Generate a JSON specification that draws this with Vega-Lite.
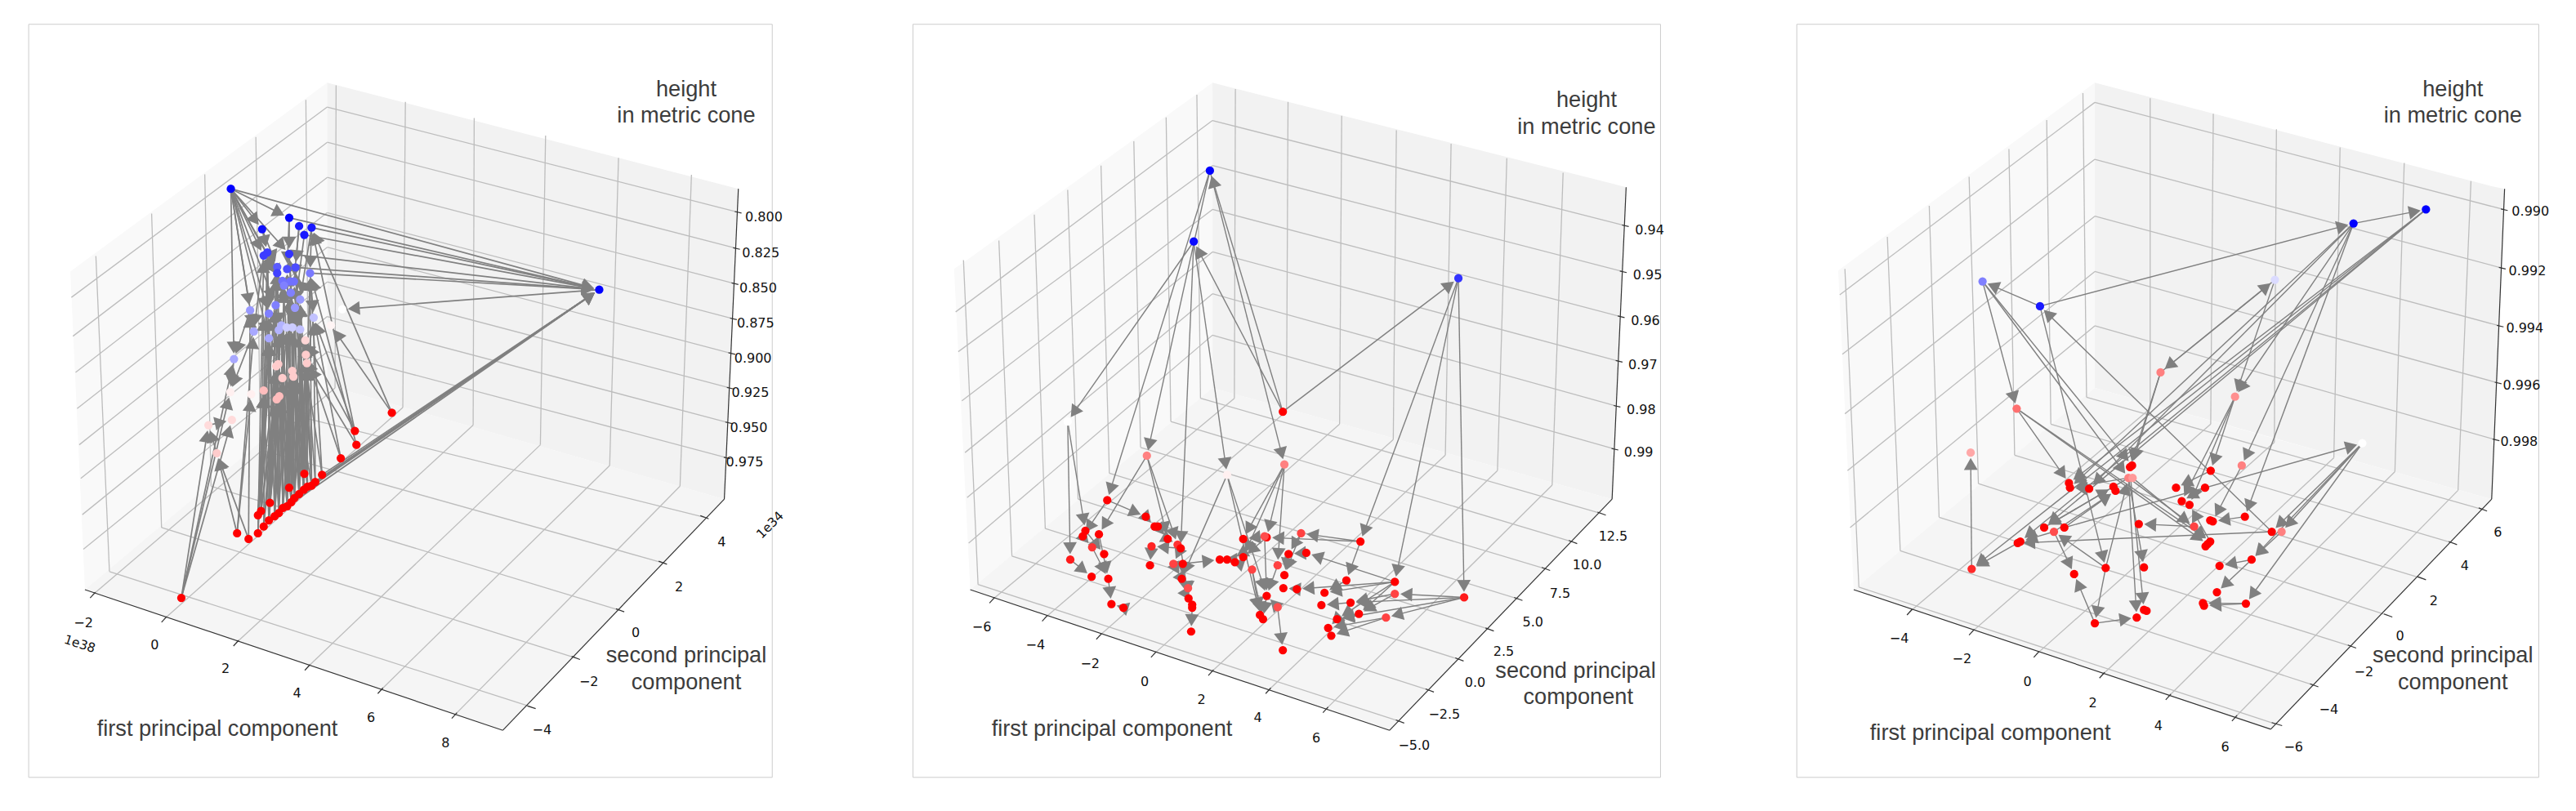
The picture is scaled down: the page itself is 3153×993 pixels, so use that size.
{"$schema":"https://vega.github.io/schema/vega-lite/v6.json","padding":0,"spacing":0,"background":"white","config":{"view":{"stroke":null},"concat":{"spacing":0}},
"datasets":{
"frame1":[{"x":55,"x2":1482,"y":47,"y2":1503}],
"frame2":[{"x":43,"x2":1478,"y":47,"y2":1503}],
"frame3":[{"x":62,"x2":1496,"y":47,"y2":1503}],
"walls1":[{"wall":"left","x":135,"y":525,"y2":525},{"wall":"left","x":163,"y":504,"y2":1140},{"wall":"left","x":628,"y":160,"y2":745},{"wall":"right","x":628,"y":160,"y2":745},{"wall":"right","x":1390,"y":358,"y2":965},{"wall":"right","x":1417,"y":365,"y2":365},{"wall":"floor","x":163,"y":1140,"y2":1140},{"wall":"floor","x":628,"y":745,"y2":1298},{"wall":"floor","x":965,"y":842,"y2":1412},{"wall":"floor","x":1390,"y":965,"y2":965}],
"walls2":[{"wall":"left","x":122,"y":520,"y2":520},{"wall":"left","x":153,"y":498,"y2":1140},{"wall":"left","x":618,"y":160,"y2":750},{"wall":"right","x":618,"y":160,"y2":750},{"wall":"right","x":1385,"y":355,"y2":965},{"wall":"right","x":1412,"y":362,"y2":362},{"wall":"floor","x":153,"y":1140,"y2":1140},{"wall":"floor","x":618,"y":750,"y2":1297},{"wall":"floor","x":958,"y":845,"y2":1412},{"wall":"floor","x":1385,"y":965,"y2":965}],
"walls3":[{"wall":"left","x":142,"y":523,"y2":523},{"wall":"left","x":172,"y":501,"y2":1140},{"wall":"left","x":638,"y":160,"y2":750},{"wall":"right","x":638,"y":160,"y2":750},{"wall":"right","x":1405,"y":360,"y2":965},{"wall":"right","x":1430,"y":365,"y2":365},{"wall":"floor","x":172,"y":1140,"y2":1140},{"wall":"floor","x":638,"y":750,"y2":1297},{"wall":"floor","x":978,"y":846,"y2":1410},{"wall":"floor","x":1405,"y":965,"y2":965}],
"grid1":[{"x":645,"y":165,"x2":643,"y2":750},{"x":778,"y":197,"x2":773,"y2":788},{"x":910,"y":228,"x2":908,"y2":822},{"x":1047,"y":262,"x2":1037,"y2":860},{"x":1187,"y":305,"x2":1170,"y2":900},{"x":1327,"y":338,"x2":1305,"y2":940},{"x":643,"y":750,"x2":178,"y2":1150},{"x":773,"y":788,"x2":315,"y2":1197},{"x":908,"y":822,"x2":453,"y2":1243},{"x":1037,"y":860,"x2":590,"y2":1290},{"x":1170,"y":900,"x2":730,"y2":1335},{"x":1305,"y":940,"x2":872,"y2":1383},{"x":184,"y":495,"x2":210,"y2":1105},{"x":291,"y":413,"x2":310,"y2":1020},{"x":393,"y":337,"x2":405,"y2":940},{"x":491,"y":265,"x2":500,"y2":870},{"x":587,"y":193,"x2":592,"y2":810},{"x":210,"y":1105,"x2":1020,"y2":1367},{"x":310,"y":1020,"x2":1105,"y2":1272},{"x":405,"y":940,"x2":1190,"y2":1180},{"x":500,"y":870,"x2":1272,"y2":1088},{"x":592,"y":810,"x2":1352,"y2":1000},{"x":628,"y":207,"x2":1415,"y2":410},{"x":628,"y":275,"x2":1412,"y2":480},{"x":628,"y":343,"x2":1409,"y2":548},{"x":628,"y":411,"x2":1406,"y2":616},{"x":628,"y":478,"x2":1403,"y2":683},{"x":628,"y":545,"x2":1400,"y2":750},{"x":628,"y":612,"x2":1397,"y2":817},{"x":628,"y":680,"x2":1394,"y2":885},{"x":628,"y":207,"x2":137,"y2":575},{"x":628,"y":275,"x2":140,"y2":650},{"x":628,"y":343,"x2":145,"y2":720},{"x":628,"y":411,"x2":148,"y2":790},{"x":628,"y":478,"x2":152,"y2":860},{"x":628,"y":545,"x2":155,"y2":925},{"x":628,"y":612,"x2":158,"y2":995},{"x":628,"y":680,"x2":160,"y2":1062}],
"grid2":[{"x":662,"y":172,"x2":660,"y2":770},{"x":763,"y":197,"x2":760,"y2":795},{"x":866,"y":224,"x2":862,"y2":820},{"x":971,"y":252,"x2":965,"y2":850},{"x":1076,"y":278,"x2":1065,"y2":880},{"x":1183,"y":306,"x2":1165,"y2":910},{"x":1291,"y":334,"x2":1270,"y2":938},{"x":660,"y":770,"x2":195,"y2":1160},{"x":760,"y":795,"x2":296,"y2":1195},{"x":862,"y":820,"x2":400,"y2":1230},{"x":965,"y":850,"x2":505,"y2":1265},{"x":1065,"y":880,"x2":615,"y2":1300},{"x":1165,"y":910,"x2":725,"y2":1335},{"x":1270,"y":938,"x2":835,"y2":1372},{"x":140,"y":503,"x2":168,"y2":1130},{"x":208,"y":465,"x2":233,"y2":1075},{"x":276,"y":415,"x2":297,"y2":1022},{"x":340,"y":367,"x2":360,"y2":965},{"x":404,"y":320,"x2":420,"y2":915},{"x":467,"y":273,"x2":480,"y2":865},{"x":529,"y":227,"x2":538,"y2":815},{"x":588,"y":183,"x2":595,"y2":770},{"x":168,"y":1130,"x2":978,"y2":1395},{"x":233,"y":1075,"x2":1035,"y2":1335},{"x":297,"y":1022,"x2":1092,"y2":1275},{"x":360,"y":965,"x2":1150,"y2":1217},{"x":420,"y":915,"x2":1205,"y2":1158},{"x":480,"y":865,"x2":1258,"y2":1100},{"x":538,"y":815,"x2":1310,"y2":1048},{"x":595,"y":770,"x2":1365,"y2":993},{"x":618,"y":233,"x2":1409,"y2":436},{"x":618,"y":320,"x2":1405,"y2":525},{"x":618,"y":405,"x2":1401,"y2":612},{"x":618,"y":487,"x2":1397,"y2":698},{"x":618,"y":568,"x2":1393,"y2":785},{"x":618,"y":648,"x2":1389,"y2":868},{"x":618,"y":233,"x2":125,"y2":603},{"x":618,"y":320,"x2":130,"y2":680},{"x":618,"y":405,"x2":137,"y2":775},{"x":618,"y":487,"x2":143,"y2":875},{"x":618,"y":568,"x2":147,"y2":962},{"x":618,"y":648,"x2":150,"y2":1050}],
"grid3":[{"x":745,"y":190,"x2":745,"y2":790},{"x":867,"y":220,"x2":862,"y2":820},{"x":989,"y":250,"x2":985,"y2":855},{"x":1112,"y":285,"x2":1100,"y2":885},{"x":1236,"y":315,"x2":1218,"y2":912},{"x":1365,"y":350,"x2":1340,"y2":948},{"x":745,"y":790,"x2":280,"y2":1183},{"x":862,"y":820,"x2":400,"y2":1222},{"x":985,"y":855,"x2":525,"y2":1265},{"x":1100,"y":885,"x2":652,"y2":1305},{"x":1218,"y":912,"x2":780,"y2":1347},{"x":1340,"y":948,"x2":908,"y2":1388},{"x":155,"y":520,"x2":182,"y2":1135},{"x":237,"y":458,"x2":262,"y2":1065},{"x":318,"y":398,"x2":337,"y2":1000},{"x":395,"y":342,"x2":413,"y2":935},{"x":472,"y":288,"x2":483,"y2":880},{"x":545,"y":232,"x2":553,"y2":820},{"x":615,"y":180,"x2":622,"y2":768},{"x":182,"y":1135,"x2":988,"y2":1400},{"x":262,"y":1065,"x2":1062,"y2":1325},{"x":337,"y":1000,"x2":1135,"y2":1250},{"x":413,"y":935,"x2":1205,"y2":1190},{"x":483,"y":880,"x2":1270,"y2":1118},{"x":553,"y":820,"x2":1330,"y2":1050},{"x":622,"y":768,"x2":1388,"y2":985},{"x":638,"y":198,"x2":1428,"y2":405},{"x":638,"y":308,"x2":1424,"y2":518},{"x":638,"y":418,"x2":1420,"y2":630},{"x":638,"y":525,"x2":1416,"y2":740},{"x":638,"y":630,"x2":1412,"y2":850},{"x":638,"y":198,"x2":145,"y2":570},{"x":638,"y":308,"x2":150,"y2":685},{"x":638,"y":418,"x2":155,"y2":800},{"x":638,"y":525,"x2":160,"y2":910},{"x":638,"y":630,"x2":165,"y2":1020}],
"axis1":[{"x":163,"y":1140,"x2":965,"y2":1412},{"x":965,"y":1412,"x2":1390,"y2":965},{"x":1417,"y":365,"x2":1390,"y2":965},{"x":173,"y":1156,"x2":183,"y2":1145},{"x":310,"y":1203,"x2":320,"y2":1192},{"x":448,"y":1249,"x2":458,"y2":1238},{"x":585,"y":1296,"x2":595,"y2":1285},{"x":725,"y":1341,"x2":735,"y2":1330},{"x":867,"y":1389,"x2":877,"y2":1378},{"x":1012,"y":1365,"x2":1028,"y2":1370},{"x":1097,"y":1269,"x2":1113,"y2":1275},{"x":1182,"y":1177,"x2":1198,"y2":1183},{"x":1264,"y":1085,"x2":1280,"y2":1091},{"x":1344,"y":997,"x2":1360,"y2":1003},{"x":1410,"y":409,"x2":1423,"y2":412},{"x":1407,"y":479,"x2":1420,"y2":482},{"x":1404,"y":547,"x2":1417,"y2":550},{"x":1401,"y":615,"x2":1414,"y2":618},{"x":1398,"y":682,"x2":1411,"y2":685},{"x":1395,"y":749,"x2":1408,"y2":752},{"x":1392,"y":816,"x2":1405,"y2":819},{"x":1389,"y":884,"x2":1402,"y2":887}],
"axis2":[{"x":153,"y":1140,"x2":958,"y2":1412},{"x":958,"y":1412,"x2":1385,"y2":965},{"x":1412,"y":362,"x2":1385,"y2":965},{"x":190,"y":1166,"x2":200,"y2":1155},{"x":291,"y":1201,"x2":301,"y2":1190},{"x":395,"y":1236,"x2":405,"y2":1225},{"x":500,"y":1271,"x2":510,"y2":1260},{"x":610,"y":1306,"x2":620,"y2":1295},{"x":720,"y":1341,"x2":730,"y2":1330},{"x":830,"y":1378,"x2":840,"y2":1367},{"x":970,"y":1392,"x2":986,"y2":1398},{"x":1027,"y":1332,"x2":1043,"y2":1338},{"x":1084,"y":1272,"x2":1100,"y2":1278},{"x":1142,"y":1214,"x2":1158,"y2":1220},{"x":1197,"y":1155,"x2":1213,"y2":1161},{"x":1250,"y":1097,"x2":1266,"y2":1103},{"x":1302,"y":1045,"x2":1318,"y2":1051},{"x":1357,"y":990,"x2":1373,"y2":996},{"x":1404,"y":435,"x2":1417,"y2":438},{"x":1400,"y":524,"x2":1413,"y2":527},{"x":1396,"y":611,"x2":1409,"y2":614},{"x":1392,"y":697,"x2":1405,"y2":700},{"x":1388,"y":784,"x2":1401,"y2":787},{"x":1384,"y":867,"x2":1397,"y2":870}],
"axis3":[{"x":172,"y":1140,"x2":978,"y2":1410},{"x":978,"y":1410,"x2":1405,"y2":965},{"x":1430,"y":365,"x2":1405,"y2":965},{"x":275,"y":1189,"x2":285,"y2":1178},{"x":395,"y":1228,"x2":405,"y2":1217},{"x":520,"y":1271,"x2":530,"y2":1260},{"x":647,"y":1311,"x2":657,"y2":1300},{"x":775,"y":1353,"x2":785,"y2":1342},{"x":903,"y":1394,"x2":913,"y2":1383},{"x":980,"y":1397,"x2":1000,"y2":1403},{"x":1054,"y":1322,"x2":1070,"y2":1328},{"x":1127,"y":1247,"x2":1143,"y2":1253},{"x":1197,"y":1187,"x2":1213,"y2":1193},{"x":1262,"y":1115,"x2":1278,"y2":1121},{"x":1322,"y":1047,"x2":1338,"y2":1053},{"x":1380,"y":982,"x2":1396,"y2":988},{"x":1423,"y":404,"x2":1436,"y2":407},{"x":1419,"y":517,"x2":1432,"y2":520},{"x":1415,"y":629,"x2":1428,"y2":632},{"x":1411,"y":739,"x2":1424,"y2":742},{"x":1407,"y":849,"x2":1420,"y2":852}],
"labels1":[{"t":"−2","x":160,"y":1205},{"t":"0","x":297,"y":1248},{"t":"2","x":433,"y":1293},{"t":"4","x":570,"y":1341},{"t":"6","x":712,"y":1388},{"t":"8","x":855,"y":1437},{"t":"−4","x":1040,"y":1412},{"t":"−2","x":1130,"y":1318},{"t":"0","x":1220,"y":1224},{"t":"2","x":1303,"y":1135},{"t":"4","x":1385,"y":1048},{"t":"0.800","x":1466,"y":420},{"t":"0.825","x":1460,"y":490},{"t":"0.850","x":1455,"y":557},{"t":"0.875","x":1450,"y":626},{"t":"0.900","x":1445,"y":693},{"t":"0.925","x":1440,"y":760},{"t":"0.950","x":1437,"y":827},{"t":"0.975","x":1429,"y":894}],
"labels2":[{"t":"−6","x":175,"y":1213},{"t":"−4","x":278,"y":1248},{"t":"−2","x":383,"y":1283},{"t":"0","x":488,"y":1318},{"t":"2","x":597,"y":1353},{"t":"4","x":705,"y":1388},{"t":"6","x":817,"y":1427},{"t":"−5.0","x":1005,"y":1442},{"t":"−2.5","x":1063,"y":1381},{"t":"0.0","x":1122,"y":1320},{"t":"2.5","x":1177,"y":1260},{"t":"5.0","x":1233,"y":1204},{"t":"7.5","x":1285,"y":1148},{"t":"10.0","x":1337,"y":1092},{"t":"12.5","x":1387,"y":1038},{"t":"0.94","x":1457,"y":445},{"t":"0.95","x":1453,"y":532},{"t":"0.96","x":1449,"y":620},{"t":"0.97","x":1444,"y":706},{"t":"0.98","x":1441,"y":792},{"t":"0.99","x":1436,"y":875}],
"labels3":[{"t":"−4","x":260,"y":1235},{"t":"−2","x":381,"y":1275},{"t":"0","x":508,"y":1318},{"t":"2","x":634,"y":1360},{"t":"4","x":761,"y":1403},{"t":"6","x":890,"y":1445},{"t":"−6","x":1022,"y":1445},{"t":"−4","x":1090,"y":1372},{"t":"−2","x":1158,"y":1300},{"t":"0","x":1228,"y":1230},{"t":"2","x":1293,"y":1162},{"t":"4","x":1353,"y":1095},{"t":"6","x":1417,"y":1030},{"t":"0.990","x":1480,"y":409},{"t":"0.992","x":1474,"y":525},{"t":"0.994","x":1469,"y":635},{"t":"0.996","x":1463,"y":745},{"t":"0.998","x":1458,"y":855}],
"titles1":[{"t":"height","x":1317,"y":173},{"t":"in metric cone","x":1317,"y":225},{"t":"second principal","x":1317,"y":1268},{"t":"component","x":1317,"y":1320},{"t":"first principal component","x":417,"y":1410}],
"titles2":[{"t":"height","x":1336,"y":195},{"t":"in metric cone","x":1336,"y":246},{"t":"second principal","x":1315,"y":1298},{"t":"component","x":1320,"y":1349},{"t":"first principal component","x":425,"y":1410}],
"titles3":[{"t":"height","x":1330,"y":173},{"t":"in metric cone","x":1330,"y":225},{"t":"second principal","x":1330,"y":1268},{"t":"component","x":1330,"y":1320},{"t":"first principal component","x":436,"y":1418}],
"nodes1":[{"x":443,"y":365,"s":0},{"x":555,"y":421,"s":0},{"x":503,"y":443,"s":0.03},{"x":574,"y":437,"s":0.05},{"x":598,"y":440,"s":0.05},{"x":584,"y":454,"s":0.05},{"x":555,"y":491,"s":0.1},{"x":513,"y":488,"s":0.12},{"x":506,"y":494,"s":0.12},{"x":532,"y":516,"s":0.18},{"x":551,"y":520,"s":0.15},{"x":567,"y":517,"s":0.15},{"x":532,"y":528,"s":0.13},{"x":595,"y":528,"s":0.24},{"x":542,"y":543,"s":0.22},{"x":557,"y":544,"s":0.22},{"x":564,"y":544,"s":0.22},{"x":545,"y":552,"s":0.25},{"x":558,"y":566,"s":0.25},{"x":576,"y":579,"s":0.3},{"x":529,"y":590,"s":0.25},{"x":566,"y":595,"s":0.3},{"x":516,"y":606,"s":0.25},{"x":480,"y":600,"s":0.3},{"x":602,"y":614,"s":0.38},{"x":657,"y":598,"s":0.5},{"x":540,"y":629,"s":0.35},{"x":535,"y":638,"s":0.35},{"x":550,"y":633,"s":0.4},{"x":561,"y":633,"s":0.4},{"x":576,"y":637,"s":0.38},{"x":487,"y":641,"s":0.33},{"x":516,"y":654,"s":0.33},{"x":635,"y":629,"s":0.52},{"x":586,"y":658,"s":0.58},{"x":587,"y":686,"s":0.6},{"x":449,"y":694,"s":0.33},{"x":534,"y":704,"s":0.6},{"x":530,"y":708,"s":0.6},{"x":589,"y":702,"s":0.6},{"x":561,"y":717,"s":0.6},{"x":542,"y":731,"s":0.6},{"x":563,"y":728,"s":0.6},{"x":506,"y":755,"s":0.63},{"x":536,"y":766,"s":0.63},{"x":531,"y":772,"s":0.63},{"x":442,"y":758,"s":0.53},{"x":482,"y":762,"s":0.53},{"x":445,"y":812,"s":0.57},{"x":400,"y":822,"s":0.57},{"x":416,"y":876,"s":0.6},{"x":752,"y":798,"s":1},{"x":681,"y":833,"s":1},{"x":684,"y":860,"s":1},{"x":654,"y":886,"s":1},{"x":618,"y":918,"s":1},{"x":584,"y":916,"s":1},{"x":605,"y":932,"s":1},{"x":555,"y":943,"s":1},{"x":518,"y":972,"s":1},{"x":501,"y":988,"s":1},{"x":495,"y":996,"s":1},{"x":455,"y":1031,"s":1},{"x":477,"y":1042,"s":1},{"x":495,"y":1031,"s":1},{"x":506,"y":1018,"s":1},{"x":348,"y":1156,"s":1},{"x":516,"y":1006,"s":1},{"x":527,"y":998,"s":1},{"x":535,"y":992,"s":1},{"x":543,"y":982,"s":1},{"x":551,"y":979,"s":1},{"x":559,"y":971,"s":1},{"x":565,"y":963,"s":1},{"x":574,"y":955,"s":1},{"x":583,"y":947,"s":1},{"x":590,"y":941,"s":1},{"x":598,"y":939,"s":1},{"x":1150,"y":560,"s":0}],
"edges1":[{"x":443,"y":365,"x2":503,"y2":443},{"x":443,"y":365,"x2":555,"y2":491},{"x":443,"y":365,"x2":506,"y2":494},{"x":443,"y":365,"x2":532,"y2":528},{"x":443,"y":365,"x2":480,"y2":600},{"x":443,"y":365,"x2":487,"y2":641},{"x":443,"y":365,"x2":449,"y2":694},{"x":443,"y":365,"x2":516,"y2":606},{"x":443,"y":365,"x2":529,"y2":590},{"x":443,"y":365,"x2":542,"y2":543},{"x":443,"y":365,"x2":516,"y2":654},{"x":443,"y":365,"x2":555,"y2":421},{"x":443,"y":365,"x2":1150,"y2":560},{"x":555,"y":421,"x2":1150,"y2":560},{"x":598,"y":440,"x2":1150,"y2":560},{"x":584,"y":454,"x2":1150,"y2":560},{"x":555,"y":491,"x2":1150,"y2":560},{"x":567,"y":517,"x2":1150,"y2":560},{"x":595,"y":528,"x2":1150,"y2":560},{"x":1150,"y":560,"x2":657,"y2":598},{"x":752,"y":798,"x2":635,"y2":629},{"x":752,"y":798,"x2":598,"y2":440},{"x":681,"y":833,"x2":602,"y2":614},{"x":684,"y":860,"x2":595,"y2":528},{"x":681,"y":833,"x2":598,"y2":440},{"x":348,"y":1156,"x2":445,"y2":812},{"x":348,"y":1156,"x2":442,"y2":758},{"x":348,"y":1156,"x2":449,"y2":694},{"x":348,"y":1156,"x2":400,"y2":822},{"x":455,"y":1031,"x2":416,"y2":876},{"x":477,"y":1042,"x2":416,"y2":876},{"x":400,"y":822,"x2":445,"y2":812},{"x":416,"y":876,"x2":400,"y2":822},{"x":455,"y":1031,"x2":482,"y2":762},{"x":449,"y":694,"x2":442,"y2":758},{"x":455,"y":1031,"x2":487,"y2":641},{"x":477,"y":1042,"x2":480,"y2":600},{"x":495,"y":1031,"x2":516,"y2":654},{"x":681,"y":833,"x2":586,"y2":658},{"x":684,"y":860,"x2":589,"y2":702},{"x":654,"y":886,"x2":587,"y2":686},{"x":618,"y":918,"x2":576,"y2":637},{"x":584,"y":916,"x2":563,"y2":728},{"x":605,"y":932,"x2":589,"y2":702},{"x":584,"y":916,"x2":595,"y2":528},{"x":501,"y":988,"x2":534,"y2":704},{"x":495,"y":996,"x2":506,"y2":755},{"x":518,"y":972,"x2":513,"y2":488},{"x":516,"y":1006,"x2":516,"y2":654},{"x":527,"y":998,"x2":530,"y2":708},{"x":535,"y":992,"x2":529,"y2":590},{"x":543,"y":982,"x2":536,"y2":766},{"x":551,"y":979,"x2":542,"y2":731},{"x":559,"y":971,"x2":561,"y2":717},{"x":565,"y":963,"x2":563,"y2":728},{"x":574,"y":955,"x2":566,"y2":595},{"x":583,"y":947,"x2":576,"y2":637},{"x":590,"y":941,"x2":587,"y2":686},{"x":598,"y":939,"x2":589,"y2":702},{"x":555,"y":943,"x2":540,"y2":629},{"x":516,"y":1006,"x2":506,"y2":755},{"x":527,"y":998,"x2":535,"y2":638},{"x":535,"y":992,"x2":545,"y2":552},{"x":543,"y":982,"x2":532,"y2":528},{"x":551,"y":979,"x2":550,"y2":633},{"x":559,"y":971,"x2":551,"y2":520},{"x":565,"y":963,"x2":558,"y2":566},{"x":574,"y":955,"x2":561,"y2":633},{"x":583,"y":947,"x2":567,"y2":517},{"x":590,"y":941,"x2":564,"y2":544},{"x":598,"y":939,"x2":576,"y2":579},{"x":501,"y":988,"x2":513,"y2":488},{"x":495,"y":996,"x2":529,"y2":590},{"x":518,"y":972,"x2":542,"y2":731},{"x":506,"y":1018,"x2":531,"y2":772},{"x":495,"y":1031,"x2":506,"y2":494},{"x":555,"y":943,"x2":557,"y2":544},{"x":574,"y":955,"x2":542,"y2":543},{"x":583,"y":947,"x2":555,"y2":491},{"x":503,"y":443,"x2":532,"y2":516},{"x":555,"y":421,"x2":551,"y2":520},{"x":574,"y":437,"x2":564,"y2":544},{"x":598,"y":440,"x2":576,"y2":579},{"x":584,"y":454,"x2":566,"y2":595},{"x":555,"y":491,"x2":561,"y2":633},{"x":532,"y":516,"x2":535,"y2":638},{"x":480,"y":600,"x2":449,"y2":694},{"x":487,"y":641,"x2":442,"y2":758},{"x":598,"y":939,"x2":1150,"y2":560},{"x":590,"y":941,"x2":1150,"y2":560},{"x":605,"y":932,"x2":1150,"y2":560},{"x":583,"y":947,"x2":1150,"y2":560},{"x":565,"y":963,"x2":1150,"y2":560},{"x":551,"y":979,"x2":1150,"y2":560},{"x":618,"y":918,"x2":1150,"y2":560},{"x":501,"y":988,"x2":506,"y2":606},{"x":495,"y":996,"x2":516,"y2":606},{"x":495,"y":1031,"x2":506,"y2":755},{"x":506,"y":1018,"x2":513,"y2":488},{"x":516,"y":1006,"x2":532,"y2":516},{"x":516,"y":1006,"x2":529,"y2":590},{"x":527,"y":998,"x2":516,"y2":606},{"x":527,"y":998,"x2":532,"y2":528},{"x":535,"y":992,"x2":516,"y2":654},{"x":535,"y":992,"x2":530,"y2":708},{"x":543,"y":982,"x2":540,"y2":629},{"x":543,"y":982,"x2":545,"y2":552},{"x":551,"y":979,"x2":534,"y2":704},{"x":551,"y":979,"x2":558,"y2":566},{"x":559,"y":971,"x2":536,"y2":766},{"x":559,"y":971,"x2":542,"y2":731},{"x":559,"y":971,"x2":566,"y2":595},{"x":565,"y":963,"x2":551,"y2":520},{"x":565,"y":963,"x2":540,"y2":629},{"x":574,"y":955,"x2":563,"y2":728},{"x":574,"y":955,"x2":576,"y2":579},{"x":583,"y":947,"x2":561,"y2":717},{"x":583,"y":947,"x2":586,"y2":658},{"x":590,"y":941,"x2":576,"y2":637},{"x":590,"y":941,"x2":589,"y2":702},{"x":598,"y":939,"x2":595,"y2":528},{"x":598,"y":939,"x2":587,"y2":686},{"x":555,"y":943,"x2":550,"y2":633},{"x":555,"y":943,"x2":561,"y2":717},{"x":518,"y":972,"x2":516,"y2":654},{"x":518,"y":972,"x2":529,"y2":590},{"x":501,"y":988,"x2":531,"y2":772},{"x":495,"y":996,"x2":530,"y2":708},{"x":506,"y":1018,"x2":535,"y2":638},{"x":584,"y":916,"x2":576,"y2":579},{"x":605,"y":932,"x2":602,"y2":614},{"x":654,"y":886,"x2":602,"y2":614},{"x":618,"y":918,"x2":595,"y2":528},{"x":503,"y":443,"x2":513,"y2":488},{"x":555,"y":421,"x2":555,"y2":491},{"x":574,"y":437,"x2":567,"y2":517},{"x":598,"y":440,"x2":595,"y2":528},{"x":513,"y":488,"x2":516,"y2":606},{"x":506,"y":494,"x2":487,"y2":641},{"x":567,"y":517,"x2":576,"y2":637},{"x":595,"y":528,"x2":602,"y2":614},{"x":602,"y":614,"x2":589,"y2":702},{"x":501,"y":988,"x2":516,"y2":654},{"x":495,"y":996,"x2":532,"y2":528},{"x":516,"y":1006,"x2":536,"y2":766},{"x":516,"y":1006,"x2":540,"y2":629},{"x":527,"y":998,"x2":542,"y2":731},{"x":527,"y":998,"x2":550,"y2":633},{"x":535,"y":992,"x2":534,"y2":704},{"x":535,"y":992,"x2":558,"y2":566},{"x":543,"y":982,"x2":561,"y2":717},{"x":543,"y":982,"x2":563,"y2":728},{"x":551,"y":979,"x2":536,"y2":766},{"x":551,"y":979,"x2":566,"y2":595},{"x":559,"y":971,"x2":576,"y2":637},{"x":559,"y":971,"x2":561,"y2":633},{"x":565,"y":963,"x2":576,"y2":579},{"x":565,"y":963,"x2":586,"y2":658},{"x":574,"y":955,"x2":587,"y2":686},{"x":574,"y":955,"x2":589,"y2":702},{"x":583,"y":947,"x2":563,"y2":728},{"x":583,"y":947,"x2":589,"y2":702},{"x":590,"y":941,"x2":563,"y2":728},{"x":590,"y":941,"x2":586,"y2":658},{"x":598,"y":939,"x2":561,"y2":717},{"x":555,"y":943,"x2":534,"y2":704},{"x":555,"y":943,"x2":542,"y2":731},{"x":518,"y":972,"x2":530,"y2":708},{"x":518,"y":972,"x2":536,"y2":766}],
"nodes2":[{"x":613,"y":330,"s":0},{"x":582,"y":467,"s":0.02},{"x":1090,"y":538,"s":0.1},{"x":753,"y":796,"s":1},{"x":340,"y":815,"s":0.5},{"x":492,"y":881,"s":0.75},{"x":646,"y":918,"s":0.53},{"x":756,"y":898,"s":0.75},{"x":416,"y":967,"s":1},{"x":490,"y":999,"s":1},{"x":507,"y":1018,"s":1},{"x":513,"y":1018,"s":1},{"x":532,"y":1042,"s":1},{"x":551,"y":1053,"s":0.9},{"x":557,"y":1060,"s":1},{"x":501,"y":1056,"s":0.93},{"x":498,"y":1093,"s":1},{"x":543,"y":1090,"s":0.87},{"x":561,"y":1090,"s":1},{"x":559,"y":1119,"s":1},{"x":571,"y":1137,"s":0.85},{"x":572,"y":1157,"s":1},{"x":579,"y":1169,"s":1},{"x":579,"y":1175,"s":1},{"x":577,"y":1221,"s":1},{"x":374,"y":1026,"s":1},{"x":369,"y":1037,"s":1},{"x":400,"y":1033,"s":1},{"x":387,"y":1058,"s":0.9},{"x":410,"y":1071,"s":1},{"x":345,"y":1082,"s":0.95},{"x":386,"y":1115,"s":1},{"x":418,"y":1119,"s":1},{"x":424,"y":1168,"s":1},{"x":447,"y":1175,"s":1},{"x":632,"y":1082,"s":1},{"x":646,"y":1082,"s":1},{"x":661,"y":1087,"s":1},{"x":677,"y":1077,"s":1},{"x":677,"y":1042,"s":1},{"x":694,"y":1101,"s":0.87},{"x":722,"y":1039,"s":1},{"x":718,"y":1037,"s":0.85},{"x":743,"y":1093,"s":0.87},{"x":722,"y":1152,"s":1},{"x":743,"y":1174,"s":0.85},{"x":709,"y":1189,"s":1},{"x":715,"y":1197,"s":1},{"x":753,"y":1257,"s":1},{"x":788,"y":1031,"s":0.87},{"x":764,"y":1071,"s":1},{"x":798,"y":1069,"s":1},{"x":756,"y":1112,"s":1},{"x":754,"y":1137,"s":1},{"x":780,"y":1139,"s":1},{"x":902,"y":1047,"s":1},{"x":875,"y":1122,"s":1},{"x":833,"y":1146,"s":1},{"x":827,"y":1170,"s":1},{"x":883,"y":1165,"s":1},{"x":899,"y":1187,"s":1},{"x":857,"y":1197,"s":1},{"x":840,"y":1214,"s":1},{"x":846,"y":1229,"s":1},{"x":968,"y":1125,"s":1},{"x":968,"y":1148,"s":0.87},{"x":1101,"y":1155,"s":0.95},{"x":951,"y":1194,"s":0.87}],
"edges2":[{"x":613,"y":330,"x2":492,"y2":881},{"x":613,"y":330,"x2":416,"y2":967},{"x":613,"y":330,"x2":756,"y2":898},{"x":753,"y":796,"x2":613,"y2":330},{"x":582,"y":467,"x2":340,"y2":815},{"x":582,"y":467,"x2":557,"y2":1060},{"x":582,"y":467,"x2":646,"y2":918},{"x":753,"y":796,"x2":582,"y2":467},{"x":753,"y":796,"x2":1090,"y2":538},{"x":1090,"y":538,"x2":902,"y2":1047},{"x":1090,"y":538,"x2":968,"y2":1125},{"x":1090,"y":538,"x2":1101,"y2":1155},{"x":340,"y":815,"x2":345,"y2":1082},{"x":340,"y":815,"x2":374,"y2":1026},{"x":492,"y":881,"x2":400,"y2":1033},{"x":492,"y":881,"x2":532,"y2":1042},{"x":492,"y":881,"x2":551,"y2":1053},{"x":646,"y":918,"x2":559,"y2":1119},{"x":646,"y":918,"x2":722,"y2":1152},{"x":646,"y":918,"x2":709,"y2":1189},{"x":756,"y":898,"x2":677,"y2":1042},{"x":756,"y":898,"x2":677,"y2":1077},{"x":756,"y":898,"x2":722,"y2":1039},{"x":756,"y":898,"x2":743,"y2":1093},{"x":902,"y":1047,"x2":722,"y2":1039},{"x":902,"y":1047,"x2":788,"y2":1031},{"x":902,"y":1047,"x2":875,"y2":1122},{"x":416,"y":967,"x2":490,"y2":999},{"x":416,"y":967,"x2":369,"y2":1037},{"x":490,"y":999,"x2":507,"y2":1018},{"x":513,"y":1018,"x2":532,"y2":1042},{"x":532,"y":1042,"x2":551,"y2":1053},{"x":557,"y":1060,"x2":501,"y2":1056},{"x":557,"y":1060,"x2":543,"y2":1090},{"x":561,"y":1090,"x2":632,"y2":1082},{"x":646,"y":1082,"x2":632,"y2":1082},{"x":661,"y":1087,"x2":646,"y2":1082},{"x":374,"y":1026,"x2":410,"y2":1071},{"x":400,"y":1033,"x2":418,"y2":1119},{"x":369,"y":1037,"x2":387,"y2":1058},{"x":387,"y":1058,"x2":418,"y2":1119},{"x":418,"y":1119,"x2":424,"y2":1168},{"x":447,"y":1175,"x2":424,"y2":1168},{"x":345,"y":1082,"x2":386,"y2":1115},{"x":501,"y":1056,"x2":498,"y2":1093},{"x":543,"y":1090,"x2":559,"y2":1119},{"x":561,"y":1090,"x2":559,"y2":1119},{"x":571,"y":1137,"x2":572,"y2":1157},{"x":572,"y":1157,"x2":579,"y2":1169},{"x":579,"y":1175,"x2":577,"y2":1221},{"x":557,"y":1060,"x2":572,"y2":1157},{"x":559,"y":1119,"x2":571,"y2":1137},{"x":677,"y":1077,"x2":677,"y2":1042},{"x":718,"y":1037,"x2":677,"y2":1042},{"x":722,"y":1039,"x2":677,"y2":1077},{"x":694,"y":1101,"x2":709,"y2":1189},{"x":694,"y":1101,"x2":715,"y2":1197},{"x":718,"y":1037,"x2":722,"y2":1152},{"x":743,"y":1093,"x2":722,"y2":1152},{"x":722,"y":1152,"x2":715,"y2":1197},{"x":743,"y":1174,"x2":753,"y2":1257},{"x":743,"y":1174,"x2":722,"y2":1152},{"x":788,"y":1031,"x2":756,"y2":1112},{"x":788,"y":1031,"x2":764,"y2":1071},{"x":798,"y":1069,"x2":764,"y2":1071},{"x":968,"y":1125,"x2":798,"y2":1069},{"x":780,"y":1139,"x2":754,"y2":1137},{"x":968,"y":1125,"x2":780,"y2":1139},{"x":764,"y":1071,"x2":756,"y2":1112},{"x":968,"y":1125,"x2":833,"y2":1146},{"x":968,"y":1125,"x2":899,"y2":1187},{"x":968,"y":1125,"x2":857,"y2":1197},{"x":1101,"y":1155,"x2":968,"y2":1148},{"x":1101,"y":1155,"x2":951,"y2":1194},{"x":1101,"y":1155,"x2":883,"y2":1165},{"x":1101,"y":1155,"x2":857,"y2":1197},{"x":968,"y":1148,"x2":883,"y2":1165},{"x":968,"y":1148,"x2":899,"y2":1187},{"x":951,"y":1194,"x2":840,"y2":1214},{"x":951,"y":1194,"x2":846,"y2":1229},{"x":883,"y":1165,"x2":827,"y2":1170},{"x":899,"y":1187,"x2":857,"y2":1197},{"x":857,"y":1197,"x2":840,"y2":1214},{"x":875,"y":1122,"x2":833,"y2":1146}],
"nodes3":[{"x":421,"y":544,"s":0.25},{"x":532,"y":592,"s":0.05},{"x":1138,"y":432,"s":0},{"x":1278,"y":405,"s":0},{"x":986,"y":541,"s":0.43},{"x":765,"y":720,"s":0.75},{"x":909,"y":767,"s":0.72},{"x":487,"y":790,"s":0.78},{"x":1155,"y":857,"s":0.5},{"x":398,"y":875,"s":0.67},{"x":400,"y":1100,"s":0.92},{"x":588,"y":934,"s":1},{"x":590,"y":943,"s":1},{"x":627,"y":945,"s":1},{"x":674,"y":941,"s":1},{"x":678,"y":949,"s":1},{"x":710,"y":900,"s":1},{"x":706,"y":903,"s":1},{"x":703,"y":924,"s":0.75},{"x":711,"y":924,"s":0.7},{"x":540,"y":1020,"s":1},{"x":559,"y":1028,"s":0.85},{"x":579,"y":1020,"s":1},{"x":489,"y":1050,"s":1},{"x":494,"y":1047,"s":1},{"x":598,"y":1110,"s":1},{"x":659,"y":1098,"s":1},{"x":638,"y":1205,"s":1},{"x":719,"y":1194,"s":1},{"x":733,"y":1179,"s":1},{"x":738,"y":1181,"s":1},{"x":723,"y":1013,"s":1},{"x":733,"y":1097,"s":1},{"x":795,"y":943,"s":1},{"x":862,"y":910,"s":1},{"x":851,"y":943,"s":1},{"x":806,"y":969,"s":1},{"x":821,"y":976,"s":1},{"x":922,"y":900,"s":0.75},{"x":861,"y":1006,"s":1},{"x":866,"y":1008,"s":1},{"x":928,"y":999,"s":1},{"x":830,"y":1018,"s":0.87},{"x":861,"y":1047,"s":1},{"x":856,"y":1052,"s":1},{"x":852,"y":1056,"s":1},{"x":980,"y":1028,"s":1},{"x":999,"y":1028,"s":0.75},{"x":941,"y":1082,"s":1},{"x":879,"y":1094,"s":1},{"x":874,"y":1145,"s":1},{"x":930,"y":1167,"s":1},{"x":847,"y":1166,"s":1},{"x":849,"y":1171,"s":1}],
"edges3":[{"x":1138,"y":432,"x2":1278,"y2":405},{"x":532,"y":592,"x2":1138,"y2":432},{"x":532,"y":592,"x2":421,"y2":544},{"x":421,"y":544,"x2":487,"y2":790},{"x":421,"y":544,"x2":710,"y2":900},{"x":421,"y":544,"x2":703,"y2":924},{"x":532,"y":592,"x2":659,"y2":1098},{"x":980,"y":1028,"x2":532,"y2":592},{"x":986,"y":541,"x2":765,"y2":720},{"x":765,"y":720,"x2":986,"y2":541},{"x":1138,"y":432,"x2":909,"y2":767},{"x":1138,"y":432,"x2":922,"y2":900},{"x":1138,"y":432,"x2":928,"y2":999},{"x":986,"y":541,"x2":909,"y2":767},{"x":765,"y":720,"x2":710,"y2":900},{"x":765,"y":720,"x2":706,"y2":903},{"x":909,"y":767,"x2":862,"y2":910},{"x":909,"y":767,"x2":806,"y2":969},{"x":909,"y":767,"x2":821,"y2":976},{"x":922,"y":900,"x2":866,"y2":1008},{"x":1278,"y":405,"x2":588,"y2":934},{"x":1278,"y":405,"x2":540,"y2":1020},{"x":1278,"y":405,"x2":494,"y2":1047},{"x":1278,"y":405,"x2":400,"y2":1100},{"x":1138,"y":432,"x2":590,"y2":943},{"x":1138,"y":432,"x2":627,"y2":945},{"x":487,"y":790,"x2":588,"y2":934},{"x":487,"y":790,"x2":856,"y2":1052},{"x":487,"y":790,"x2":861,"y2":1047},{"x":1155,"y":857,"x2":999,"y2":1028},{"x":1155,"y":857,"x2":980,"y2":1028},{"x":1155,"y":857,"x2":941,"y2":1082},{"x":1155,"y":857,"x2":930,"y2":1167},{"x":579,"y":1020,"x2":1155,"y2":857},{"x":400,"y":1100,"x2":398,"y2":875},{"x":489,"y":1050,"x2":400,"y2":1100},{"x":980,"y":1028,"x2":489,"y2":1050},{"x":999,"y":1028,"x2":941,"y2":1082},{"x":941,"y":1082,"x2":879,"y2":1094},{"x":941,"y":1082,"x2":874,"y2":1145},{"x":930,"y":1167,"x2":847,"y2":1166},{"x":930,"y":1167,"x2":849,"y2":1171},{"x":928,"y":999,"x2":866,"y2":1008},{"x":830,"y":1018,"x2":723,"y2":1013},{"x":703,"y":924,"x2":733,"y2":1097},{"x":703,"y":924,"x2":719,"y2":1194},{"x":707,"y":924,"x2":733,"y2":1179},{"x":703,"y":924,"x2":830,"y2":1018},{"x":711,"y":924,"x2":861,"y2":1047},{"x":703,"y":924,"x2":540,"y2":1020},{"x":703,"y":924,"x2":590,"y2":943},{"x":659,"y":1098,"x2":703,"y2":924},{"x":659,"y":1098,"x2":559,"y2":1028},{"x":659,"y":1098,"x2":638,"y2":1205},{"x":638,"y":1205,"x2":598,"y2":1110},{"x":638,"y":1205,"x2":719,"y2":1194},{"x":559,"y":1028,"x2":598,"y2":1110},{"x":862,"y":910,"x2":795,"y2":943},{"x":851,"y":943,"x2":806,"y2":969},{"x":861,"y":1047,"x2":821,"y2":976},{"x":540,"y":1020,"x2":674,"y2":941},{"x":579,"y":1020,"x2":678,"y2":949},{"x":627,"y":945,"x2":590,"y2":943},{"x":559,"y":1028,"x2":494,"y2":1047},{"x":559,"y":1028,"x2":678,"y2":949}]
},
"hconcat":[
{"width":1090,"height":993,"encoding":{"x":{"field":"x","type":"quantitative","axis":null,"scale":{"domain":[0,1709],"nice":false,"zero":false}},"y":{"field":"y","type":"quantitative","axis":null,"scale":{"domain":[0,1568],"reverse":true,"nice":false,"zero":false}}},
"layer":[
{"data":{"name":"frame1"},"mark":{"type":"rect","filled":false,"stroke":"#cccccc","strokeWidth":1},"encoding":{"x2":{"field":"x2"},"y2":{"field":"y2"}}},
{"data":{"name":"walls1"},"mark":{"type":"area"},"encoding":{"y2":{"field":"y2"},"fill":{"field":"wall","type":"nominal","legend":null,"scale":{"domain":["left","right","floor"],"range":["#f9f9f9","#f2f2f2","#f5f5f5"]}}}},
{"data":{"name":"grid1"},"mark":{"type":"rule","color":"#bdbdbd","strokeWidth":1.3},"encoding":{"x2":{"field":"x2"},"y2":{"field":"y2"}}},
{"data":{"name":"axis1"},"mark":{"type":"rule","color":"#333333","strokeWidth":1.2},"encoding":{"x2":{"field":"x2"},"y2":{"field":"y2"}}},
{"data":{"name":"edges1"},"transform":[{"calculate":"sqrt(pow(datum.x2-datum.x,2)+pow(datum.y2-datum.y,2))","as":"len"},{"calculate":"datum.x2-(datum.x2-datum.x)/datum.len*22","as":"hx"},{"calculate":"datum.y2-(datum.y2-datum.y)/datum.len*22","as":"hy"},{"calculate":"atan2(datum.x2-datum.x,datum.y-datum.y2)*180/PI","as":"dir"}],
"layer":[{"mark":{"type":"rule","color":"#808080","strokeWidth":1.7},"encoding":{"x2":{"field":"hx"},"y2":{"field":"hy"}}},
{"mark":{"type":"point","shape":"triangle-up","filled":true,"opacity":1,"color":"#808080","size":285},"encoding":{"x":{"field":"hx","type":"quantitative"},"y":{"field":"hy","type":"quantitative"},"angle":{"field":"dir","type":"quantitative","scale":{"domain":[-180,180],"range":[-180,180]}}}}]},
{"data":{"name":"nodes1"},"mark":{"type":"point","shape":"circle","filled":true,"opacity":1,"size":105},"encoding":{"color":{"field":"s","type":"quantitative","legend":null,"scale":{"domain":[0,0.5,1],"range":["#0000ff","#ffffff","#ff0000"],"interpolate":"rgb"}}}},
{"data":{"name":"labels1"},"mark":{"type":"text","font":"DejaVu Sans","fontSize":16,"color":"#111111"},"encoding":{"text":{"field":"t"}}},
{"data":{"name":"titles1"},"mark":{"type":"text","font":"Liberation Sans","fontSize":27.2,"color":"#3c3c3c"},"encoding":{"text":{"field":"t"}}},
{"data":{"values":[{"t":"1e38","x":153,"y":1245}]},"mark":{"type":"text","font":"DejaVu Sans","fontSize":15.5,"angle":18,"color":"#111111"},"encoding":{"text":{"field":"t"}}},
{"data":{"values":[{"t":"1e34","x":1478,"y":1015}]},"mark":{"type":"text","font":"DejaVu Sans","fontSize":15.5,"angle":-45,"color":"#111111"},"encoding":{"text":{"field":"t"}}}
]},
{"width":1070,"height":993,"encoding":{"x":{"field":"x","type":"quantitative","axis":null,"scale":{"domain":[0,1678],"nice":false,"zero":false}},"y":{"field":"y","type":"quantitative","axis":null,"scale":{"domain":[0,1568],"reverse":true,"nice":false,"zero":false}}},
"layer":[
{"data":{"name":"frame2"},"mark":{"type":"rect","filled":false,"stroke":"#cccccc","strokeWidth":1},"encoding":{"x2":{"field":"x2"},"y2":{"field":"y2"}}},
{"data":{"name":"walls2"},"mark":{"type":"area"},"encoding":{"y2":{"field":"y2"},"fill":{"field":"wall","type":"nominal","legend":null,"scale":{"domain":["left","right","floor"],"range":["#f9f9f9","#f2f2f2","#f5f5f5"]}}}},
{"data":{"name":"grid2"},"mark":{"type":"rule","color":"#bdbdbd","strokeWidth":1.3},"encoding":{"x2":{"field":"x2"},"y2":{"field":"y2"}}},
{"data":{"name":"axis2"},"mark":{"type":"rule","color":"#333333","strokeWidth":1.2},"encoding":{"x2":{"field":"x2"},"y2":{"field":"y2"}}},
{"data":{"name":"edges2"},"transform":[{"calculate":"sqrt(pow(datum.x2-datum.x,2)+pow(datum.y2-datum.y,2))","as":"len"},{"calculate":"datum.x2-(datum.x2-datum.x)/datum.len*22","as":"hx"},{"calculate":"datum.y2-(datum.y2-datum.y)/datum.len*22","as":"hy"},{"calculate":"atan2(datum.x2-datum.x,datum.y-datum.y2)*180/PI","as":"dir"}],
"layer":[{"mark":{"type":"rule","color":"#808080","strokeWidth":1.4},"encoding":{"x2":{"field":"hx"},"y2":{"field":"hy"}}},
{"mark":{"type":"point","shape":"triangle-up","filled":true,"opacity":1,"color":"#808080","size":285},"encoding":{"x":{"field":"hx","type":"quantitative"},"y":{"field":"hy","type":"quantitative"},"angle":{"field":"dir","type":"quantitative","scale":{"domain":[-180,180],"range":[-180,180]}}}}]},
{"data":{"name":"nodes2"},"mark":{"type":"point","shape":"circle","filled":true,"opacity":1,"size":105},"encoding":{"color":{"field":"s","type":"quantitative","legend":null,"scale":{"domain":[0,0.5,1],"range":["#0000ff","#ffffff","#ff0000"],"interpolate":"rgb"}}}},
{"data":{"name":"labels2"},"mark":{"type":"text","font":"DejaVu Sans","fontSize":16,"color":"#111111"},"encoding":{"text":{"field":"t"}}},
{"data":{"name":"titles2"},"mark":{"type":"text","font":"Liberation Sans","fontSize":27.2,"color":"#3c3c3c"},"encoding":{"text":{"field":"t"}}}
]},
{"width":993,"height":993,"encoding":{"x":{"field":"x","type":"quantitative","axis":null,"scale":{"domain":[0,1568],"nice":false,"zero":false}},"y":{"field":"y","type":"quantitative","axis":null,"scale":{"domain":[0,1568],"reverse":true,"nice":false,"zero":false}}},
"layer":[
{"data":{"name":"frame3"},"mark":{"type":"rect","filled":false,"stroke":"#cccccc","strokeWidth":1},"encoding":{"x2":{"field":"x2"},"y2":{"field":"y2"}}},
{"data":{"name":"walls3"},"mark":{"type":"area"},"encoding":{"y2":{"field":"y2"},"fill":{"field":"wall","type":"nominal","legend":null,"scale":{"domain":["left","right","floor"],"range":["#f9f9f9","#f2f2f2","#f5f5f5"]}}}},
{"data":{"name":"grid3"},"mark":{"type":"rule","color":"#bdbdbd","strokeWidth":1.3},"encoding":{"x2":{"field":"x2"},"y2":{"field":"y2"}}},
{"data":{"name":"axis3"},"mark":{"type":"rule","color":"#333333","strokeWidth":1.2},"encoding":{"x2":{"field":"x2"},"y2":{"field":"y2"}}},
{"data":{"name":"edges3"},"transform":[{"calculate":"sqrt(pow(datum.x2-datum.x,2)+pow(datum.y2-datum.y,2))","as":"len"},{"calculate":"datum.x2-(datum.x2-datum.x)/datum.len*22","as":"hx"},{"calculate":"datum.y2-(datum.y2-datum.y)/datum.len*22","as":"hy"},{"calculate":"atan2(datum.x2-datum.x,datum.y-datum.y2)*180/PI","as":"dir"}],
"layer":[{"mark":{"type":"rule","color":"#808080","strokeWidth":1.4},"encoding":{"x2":{"field":"hx"},"y2":{"field":"hy"}}},
{"mark":{"type":"point","shape":"triangle-up","filled":true,"opacity":1,"color":"#808080","size":285},"encoding":{"x":{"field":"hx","type":"quantitative"},"y":{"field":"hy","type":"quantitative"},"angle":{"field":"dir","type":"quantitative","scale":{"domain":[-180,180],"range":[-180,180]}}}}]},
{"data":{"name":"nodes3"},"mark":{"type":"point","shape":"circle","filled":true,"opacity":1,"size":105},"encoding":{"color":{"field":"s","type":"quantitative","legend":null,"scale":{"domain":[0,0.5,1],"range":["#0000ff","#ffffff","#ff0000"],"interpolate":"rgb"}}}},
{"data":{"name":"labels3"},"mark":{"type":"text","font":"DejaVu Sans","fontSize":16,"color":"#111111"},"encoding":{"text":{"field":"t"}}},
{"data":{"name":"titles3"},"mark":{"type":"text","font":"Liberation Sans","fontSize":27.2,"color":"#3c3c3c"},"encoding":{"text":{"field":"t"}}}
]}
]}
